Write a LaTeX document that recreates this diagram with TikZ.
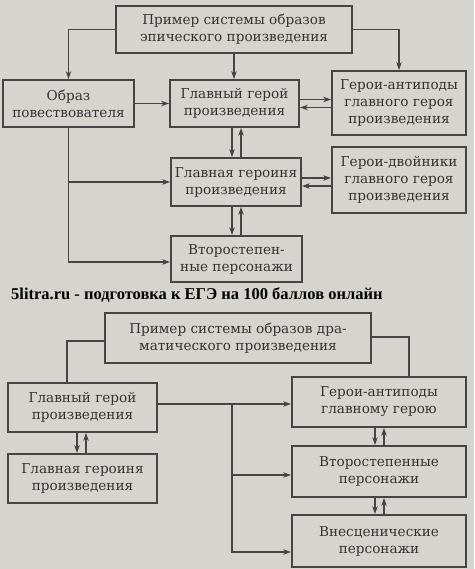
\documentclass[tikz,border=0pt]{standalone}
\usepackage{fontspec}
\setmainfont{DejaVu Serif}
\newfontfamily\wmfont{Liberation Serif}
\usetikzlibrary{arrows.meta,calc}
\definecolor{paper}{HTML}{D6D4CE}
\definecolor{ink}{HTML}{454545}
\definecolor{txt}{HTML}{333333}
\tikzset{
  box/.style={draw=ink, line width=1.8pt, fill=paper, text=txt, align=center, inner sep=0pt,
    font=\fontsize{13.6}{17}\selectfont},
  conn/.style={draw=ink, line width=1.6pt},
  arr/.style={conn, -{Stealth[length=8pt,width=5.5pt]}}
}
\begin{document}
\begin{tikzpicture}[x=1pt,y=-1pt]
\fill[paper] (0,0) rectangle (474,569);
\useasboundingbox (0,0) rectangle (474,569);
% first diagram
\node[box, minimum width=236, minimum height=47] (top1) at (234,29.5) {Пример системы образов\\эпического произведения};
\node[box, minimum width=131, minimum height=47] (obraz) at (68.5,103.5) {Образ\\повествователя};
\node[box, minimum width=129, minimum height=47] (gg1) at (234.5,103.5) {Главный герой\\произведения};
\node[box, minimum width=134, minimum height=64] (anti1) at (399,103) {Герои-антиподы\\главного героя\\произведения};
\node[box, minimum width=130, minimum height=48] (gga1) at (236,182) {Главная героиня\\произведения};
\node[box, minimum width=134, minimum height=66] (dvoj) at (399,180) {Герои-двойники\\главного героя\\произведения};
\node[box, minimum width=131, minimum height=46] (vtor1) at (236.5,259) {Второстепен-\\ные персонажи};
\draw[arr] (top1.west) -| (obraz.north);
\draw[arr] (top1.south) -- (top1.south |- gg1.north);
\draw[arr] (top1.east) -| (anti1.north);
\draw[arr] (obraz.east) -- (gg1.west);
\coordinate (a1) at ([yshift=4pt]gg1.east);
\coordinate (a2) at ([yshift=-4pt]gg1.east);
\draw[arr] (a1) -- (a1 -| anti1.west);
\draw[arr] (a2 -| anti1.west) -- (a2);
\coordinate (b1) at ([xshift=-2.5pt]gg1.south);
\coordinate (b2) at ([xshift=6.5pt]gg1.south);
\draw[arr] (b1) -- (b1 |- gga1.north);
\draw[arr] (b2 |- gga1.north) -- (b2);
\coordinate (c1) at ([yshift=4pt]gga1.east);
\coordinate (c2) at ([yshift=-4pt]gga1.east);
\draw[arr] (c1) -- (c1 -| dvoj.west);
\draw[arr] (c2 -| dvoj.west) -- (c2);
\coordinate (d1) at ([xshift=-4pt]gga1.south);
\coordinate (d2) at ([xshift=5pt]gga1.south);
\draw[arr] (d1) -- (d1 |- vtor1.north);
\draw[arr] (d2 |- vtor1.north) -- (d2);
\coordinate (e1) at ([yshift=-3pt]vtor1.west);
\draw[arr] (obraz.south) |- (e1);
\draw[arr] (obraz.south |- gga1.west) -- (gga1.west);
% watermark
\node[anchor=west, inner sep=0pt, text=black, font=\wmfont\bfseries\fontsize{16.5}{20}\selectfont] (wm) at (11,295) {5litra.ru - подготовка к ЕГЭ на 100 баллов онлайн};
% second diagram
\node[box, minimum width=266, minimum height=50] (top2) at (238,338) {Пример системы образов дра-\\матического произведения};
\node[box, minimum width=149, minimum height=49] (gg2) at (82.5,407.5) {Главный герой\\произведения};
\node[box, minimum width=174, minimum height=50] (anti2) at (379,402) {Герои-антиподы\\главному герою};
\node[box, minimum width=149, minimum height=49] (gga2) at (82.5,478.5) {Главная героиня\\произведения};
\node[box, minimum width=174, minimum height=51] (vtor2) at (379,471.5) {Второстепенные\\персонажи};
\node[box, minimum width=174, minimum height=52] (vne) at (379,541) {Внесценические\\персонажи};
\draw[conn] ([yshift=-3pt]top2.west) -| ([xshift=-15.5pt]gg2.north);
\draw[conn] ([yshift=1pt]top2.east) -| ([xshift=30pt]anti2.north);
\coordinate (h) at ([yshift=3.5pt]gg2.east);
\draw[arr] (h) -- (h -| anti2.west);
\coordinate (j) at (232,404);
\coordinate (k) at ([yshift=-11pt]vne.west);
\coordinate (m) at ([yshift=-3.5pt]vtor2.west);
\draw[arr] (j) |- (k);
\draw[arr] (j |- m) -- (m);
\coordinate (f1) at ([xshift=-5.5pt]gg2.south);
\coordinate (f2) at ([xshift=3.5pt]gg2.south);
\draw[arr] (f1) -- (f1 |- gga2.north);
\draw[arr] (f2 |- gga2.north) -- (f2);
\coordinate (g1) at ([xshift=-4pt]anti2.south);
\coordinate (g2) at ([xshift=5pt]anti2.south);
\draw[arr] (g1) -- (g1 |- vtor2.north);
\draw[arr] (g2 |- vtor2.north) -- (g2);
\coordinate (i1) at ([xshift=-4pt]vtor2.south);
\coordinate (i2) at ([xshift=5pt]vtor2.south);
\draw[arr] (i1) -- (i1 |- vne.north);
\draw[arr] (i2 |- vne.north) -- (i2);
\end{tikzpicture}
\end{document}
